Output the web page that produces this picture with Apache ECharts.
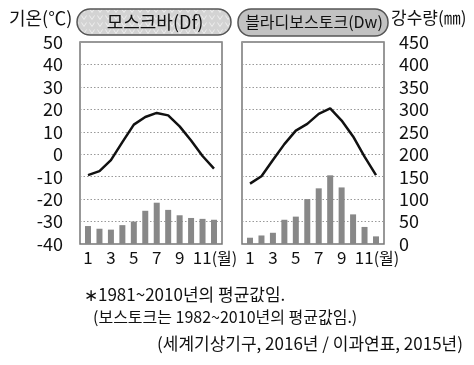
<!DOCTYPE html>
<html><head><meta charset="utf-8">
<script src="https://cdn.jsdelivr.net/npm/echarts@6/dist/echarts.min.js"></script>
<style>html,body{margin:0;padding:0;background:#fff}#c{width:474px;height:365px}</style>
</head><body><div id="c"></div>
<script>
const months = [1,2,3,4,5,6,7,8,9,10,11,12];
const monthTicks = [1,3,5,7,9,11];
const moscowTemp = [-9.3,-7.5,-2.6,5.4,13.2,16.6,18.4,17.3,12.4,6.1,-0.8,-6.4];
const moscowPrecip = [40,34,32,42,50,74,92,76,64,58,56,54];
const vladTemp = [-13.1,-9.8,-2.6,4.5,10.5,13.5,18.0,20.4,15.0,7.9,-1.1,-9.3];
const vladPrecip = [14,19,25,54,61,100,124,153,126,66,38,17];

const FONT = '"Noto Sans CJK KR", "Noto Sans", sans-serif';
const pair = arr => months.map((m,i)=>[m, arr[i]]);

function makePattern(){
  const c=document.createElement('canvas'); c.width=8; c.height=7;
  const g=c.getContext('2d'); g.fillStyle='#d3d3d3'; g.fillRect(0,0,8,7);
  g.strokeStyle='#eeeeee'; g.lineWidth=1; g.beginPath();
  g.moveTo(1.5,1.5); g.lineTo(4,5.5); g.lineTo(6.5,1.5); g.stroke();
  return c;
}

const chart = echarts.init(document.getElementById('c'), null, {renderer:'canvas'});
const gridCommon = {top:42, height:202, width:142, show:true, borderColor:'#777', borderWidth:1.5, backgroundColor:'#fff'};
const xCommon = (gi) => ({
  type:'value', gridIndex:gi, min:0.3, max:12.7,
  axisLine:{show:false}, axisTick:{show:false}, splitLine:{show:false},
  axisLabel:{customValues:monthTicks, margin:5, color:'#111', fontSize:17, fontFamily:FONT,
    formatter: v => Math.round(v)===11 ? '{n|11}{u|(월)}' : String(v),
    rich:{n:{fontSize:17, fontFamily:FONT, color:'#111', padding:[0,0,0,25]}, u:{fontSize:16, fontFamily:FONT, color:'#111'}}}
});
const splitDotted = {show:true, lineStyle:{type:[1.5,2], color:'#999', width:1}};

chart.setOption({
  animation:false,
  grid:[Object.assign({left:80}, gridCommon), Object.assign({left:242}, gridCommon)],
  xAxis:[xCommon(0), xCommon(1)],
  yAxis:[
    {type:'value', gridIndex:0, min:-40, max:50, interval:10, position:'left',
     axisLine:{show:false}, axisTick:{show:false}, splitLine:splitDotted,
     axisLabel:{margin:17, color:'#111', fontSize:18, fontFamily:FONT}},
    {type:'value', gridIndex:0, min:0, max:450, interval:50, show:false},
    {type:'value', gridIndex:1, min:-40, max:50, interval:10, show:false},
    {type:'value', gridIndex:1, min:0, max:450, interval:50, position:'right',
     axisLine:{show:false}, axisTick:{show:false}, splitLine:splitDotted,
     axisLabel:{margin:15, color:'#111', fontSize:18, fontFamily:FONT}}
  ],
  series:[
    {type:'bar', xAxisIndex:0, yAxisIndex:1, data:pair(moscowPrecip), barWidth:6, itemStyle:{color:'#888'}, z:2},
    {type:'line', xAxisIndex:0, yAxisIndex:0, data:pair(moscowTemp), showSymbol:false, symbol:'none', lineStyle:{color:'#111', width:2.5}, z:3},
    {type:'bar', xAxisIndex:1, yAxisIndex:3, data:pair(vladPrecip), barWidth:6, itemStyle:{color:'#888'}, z:2},
    {type:'line', xAxisIndex:1, yAxisIndex:2, data:pair(vladTemp), showSymbol:false, symbol:'none', lineStyle:{color:'#111', width:2.5}, z:3}
  ],
  graphic:[
    {type:'text', x:9, y:18, style:{text:'기온(℃)', font:'18px '+FONT, fill:'#111', textVerticalAlign:'middle'}},
    {type:'rect', shape:{x:77, y:9, width:154, height:26, r:13}, style:{fill:{image:makePattern(), repeat:'repeat'}, stroke:'#555', lineWidth:1.5}},
    {type:'text', x:155, y:22, style:{text:'모스크바(Df)', font:'18px '+FONT, fill:'#111', textAlign:'center', textVerticalAlign:'middle'}},
    {type:'rect', shape:{x:238, y:9, width:150, height:27, r:13}, style:{fill:'#c2c2c2', stroke:'#555', lineWidth:1.5}},
    {type:'text', x:314, y:22, style:{text:'블라디보스토크(Dw)', font:'16px '+FONT, fill:'#111', textAlign:'center', textVerticalAlign:'middle'}},
    {type:'text', x:391, y:18, style:{text:'강수량(㎜)', font:'17px '+FONT, fill:'#111', textVerticalAlign:'middle'}},
    {type:'text', x:84, y:295, style:{text:'∗1981~2010년의 평균값임.', font:'17px '+FONT, fill:'#111', textVerticalAlign:'middle'}},
    {type:'text', x:93, y:317, style:{text:'(보스토크는 1982~2010년의 평균값임.)', font:'16px '+FONT, fill:'#111', textVerticalAlign:'middle'}},
    {type:'text', x:157, y:344, style:{text:'(세계기상기구, 2016년 / 이과연표, 2015년)', font:'17px '+FONT, fill:'#111', textVerticalAlign:'middle'}}
  ]
});
</script></body></html>
